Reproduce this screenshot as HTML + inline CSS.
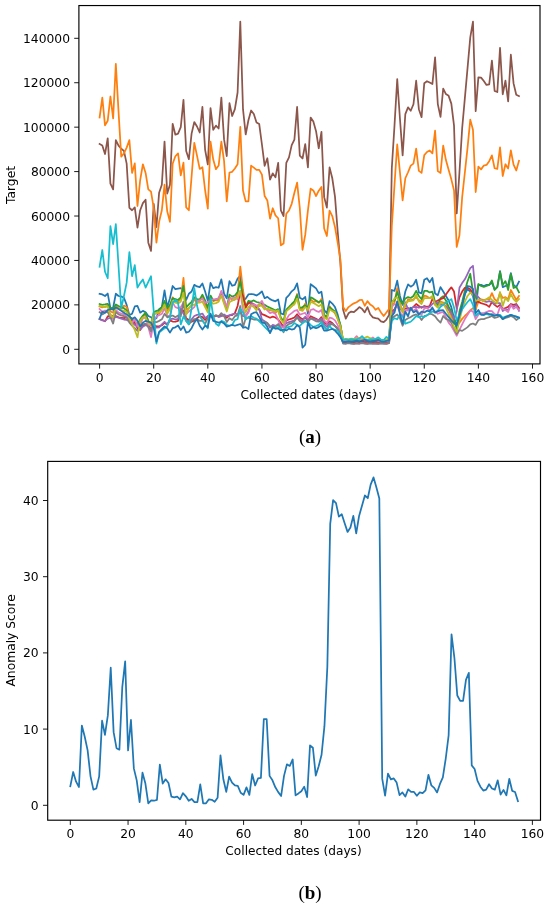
<!DOCTYPE html>
<html><head><meta charset="utf-8"><title>Figure</title>
<style>html,body{margin:0;padding:0;background:#fff;width:550px;height:906px;overflow:hidden}svg{display:block}</style>
</head><body>
<svg width="550" height="906" viewBox="0 0 550 906"><rect width="550" height="906" fill="#ffffff"/><clipPath id="ct"><rect x="78.9" y="5.55" width="461.1" height="358.34999999999997"/></clipPath><g clip-path="url(#ct)"><polyline points="99.60,293.76 102.31,294.43 105.01,295.99 107.72,293.54 110.42,308.20 113.13,307.76 115.83,293.76 118.54,295.99 121.24,296.43 123.95,297.76 126.66,304.87 129.36,315.09 132.07,313.76 134.77,306.43 137.48,305.98 140.18,312.65 142.89,310.87 145.60,312.20 148.30,315.98 151.01,317.31 153.71,319.31 156.42,318.20 159.12,309.09 161.83,307.09 164.53,290.43 167.24,307.32 169.95,298.21 172.65,285.99 175.36,289.10 178.06,288.66 180.77,288.21 183.47,289.32 186.18,299.98 188.88,293.76 191.59,291.54 194.30,284.88 197.00,286.43 199.71,287.10 202.41,283.55 205.12,291.54 207.82,300.87 210.53,282.88 213.24,288.21 215.94,287.10 218.65,287.77 221.35,279.33 224.06,293.76 226.76,298.43 229.47,281.10 232.17,285.77 234.88,284.88 237.59,278.66 240.29,275.99 243.00,300.43 245.70,298.65 248.41,294.43 251.11,293.99 253.82,294.43 256.52,295.54 259.23,293.76 261.94,291.32 264.64,298.21 267.35,296.87 270.05,299.10 272.76,300.43 275.46,301.32 278.17,299.54 280.88,313.54 283.58,314.42 286.29,297.76 288.99,295.10 291.70,291.32 294.40,289.10 297.11,283.32 299.81,297.76 302.52,299.32 305.23,296.87 307.93,313.76 310.64,284.21 313.34,286.21 316.05,288.43 318.75,293.10 321.46,291.77 324.16,309.98 326.87,313.31 329.58,301.10 332.28,303.54 334.99,307.09 337.69,314.65 340.40,325.09 343.10,340.86 345.81,341.53 348.52,340.64 351.22,341.75 353.93,341.08 356.63,341.97 359.34,340.86 362.04,341.53 364.75,342.19 367.45,341.30 370.16,340.64 372.87,341.75 375.57,341.30 378.28,341.97 380.98,340.86 383.69,340.64 386.39,341.53 389.10,339.30 391.80,289.99 394.51,290.88 397.22,280.66 399.92,295.99 402.63,304.87 405.33,291.54 408.04,284.44 410.74,286.66 413.45,284.88 416.16,279.77 418.86,292.43 421.57,293.32 424.27,279.77 426.98,278.22 429.68,282.21 432.39,277.99 435.09,293.54 437.80,295.32 440.51,287.10 443.21,291.54 445.92,295.99 448.62,300.43 451.33,307.09 454.03,318.20 456.74,324.86 459.44,315.98 462.15,304.87 464.86,293.76 467.56,289.32 470.27,291.54 472.97,295.99 475.68,309.31 478.38,285.10 481.09,284.88 483.80,285.99 486.50,284.88 489.21,284.88 491.91,282.66 494.62,289.32 497.32,287.10 500.03,271.11 502.73,287.10 505.44,285.99 508.15,284.88 510.85,273.11 513.56,284.88 516.26,287.10 518.97,281.55" fill="none" stroke="#1f77b4" stroke-width="1.75" stroke-linejoin="round" stroke-linecap="square"/><polyline points="99.60,306.43 102.31,307.48 105.01,306.66 107.72,305.76 110.42,311.54 113.13,312.65 115.83,305.98 118.54,308.20 121.24,308.65 123.95,305.54 126.66,307.09 129.36,317.09 132.07,318.20 134.77,324.47 137.48,322.64 140.18,321.88 142.89,315.98 145.60,315.06 148.30,320.42 151.01,325.98 153.71,314.87 156.42,313.00 159.12,313.55 161.83,309.31 164.53,303.76 167.24,310.43 169.95,307.27 172.65,297.32 175.36,301.08 178.06,301.39 180.77,299.32 183.47,277.77 186.18,309.31 188.88,308.31 191.59,304.90 194.30,299.32 197.00,302.99 199.71,300.66 202.41,296.41 205.12,304.50 207.82,309.31 210.53,297.10 213.24,301.16 215.94,300.11 218.65,300.33 221.35,293.76 224.06,302.46 226.76,309.31 229.47,297.10 232.17,300.31 234.88,299.71 237.59,293.76 240.29,266.66 243.00,289.99 245.70,308.20 248.41,302.65 251.11,303.88 253.82,304.44 256.52,305.53 259.23,306.01 261.94,304.87 264.64,308.99 267.35,309.00 270.05,310.41 272.76,310.32 275.46,312.80 278.17,310.43 280.88,318.20 283.58,321.53 286.29,310.43 288.99,308.82 291.70,306.43 294.40,302.65 297.11,293.99 299.81,309.31 302.52,308.96 305.23,303.54 307.93,310.80 310.64,299.32 313.34,301.88 316.05,301.10 318.75,302.89 321.46,298.87 324.16,315.98 326.87,318.20 329.58,306.20 332.28,310.55 334.99,313.24 337.69,318.64 340.40,325.98 343.10,341.53 345.81,342.08 348.52,341.04 351.22,341.66 353.93,342.52 356.63,341.08 359.34,341.68 362.04,341.11 364.75,341.38 367.45,341.35 370.16,341.75 372.87,341.06 375.57,340.72 378.28,342.36 380.98,341.73 383.69,340.88 386.39,341.94 389.10,340.41 391.80,304.87 394.51,302.65 397.22,288.21 399.92,302.65 402.63,312.42 405.33,305.98 408.04,299.32 410.74,300.43 413.45,299.32 416.16,297.10 418.86,300.43 421.57,301.54 424.27,295.54 426.98,296.43 429.68,298.21 432.39,297.10 435.09,304.87 437.80,307.09 440.51,301.54 443.21,302.65 445.92,302.65 448.62,309.31 451.33,315.98 454.03,322.64 456.74,326.20 459.44,322.64 462.15,318.87 464.86,315.98 467.56,313.31 470.27,310.43 472.97,308.20 475.68,309.31 478.38,301.98 481.09,299.32 483.80,299.98 486.50,299.32 489.21,299.32 491.91,293.10 494.62,299.32 497.32,301.32 500.03,293.10 502.73,297.99 505.44,297.10 508.15,299.10 510.85,289.99 513.56,294.88 516.26,299.98 518.97,295.99" fill="none" stroke="#ff7f0e" stroke-width="1.75" stroke-linejoin="round" stroke-linecap="square"/><polyline points="99.60,303.98 102.31,304.87 105.01,304.43 107.72,303.76 110.42,308.20 113.13,308.65 115.83,304.43 118.54,305.98 121.24,307.32 123.95,308.20 126.66,310.43 129.36,316.42 132.07,319.09 134.77,323.53 137.48,324.86 140.18,319.31 142.89,315.53 145.60,312.65 148.30,321.53 151.01,323.75 153.71,312.20 156.42,310.87 159.12,309.98 161.83,307.32 164.53,300.87 167.24,308.20 169.95,304.87 172.65,298.21 175.36,299.10 178.06,299.98 180.77,297.32 183.47,285.99 186.18,307.32 188.88,304.43 191.59,301.76 194.30,297.32 197.00,299.10 199.71,299.32 202.41,294.65 205.12,300.43 207.82,307.76 210.53,295.54 213.24,300.43 215.94,299.32 218.65,298.43 221.35,291.99 224.06,300.43 226.76,307.76 229.47,294.65 232.17,296.65 234.88,295.54 237.59,291.99 240.29,281.10 243.00,297.54 245.70,306.87 248.41,300.87 251.11,301.54 253.82,300.43 256.52,301.98 259.23,302.65 261.94,303.54 264.64,304.87 267.35,306.43 270.05,307.76 272.76,309.09 275.46,310.43 278.17,309.09 280.88,317.76 283.58,321.31 286.29,309.54 288.99,306.87 291.70,303.98 294.40,301.32 297.11,295.10 299.81,308.20 302.52,307.09 305.23,305.32 307.93,308.20 310.64,297.32 313.34,298.65 316.05,300.43 318.75,302.21 321.46,300.65 324.16,314.65 326.87,317.09 329.58,307.09 332.28,309.31 334.99,311.54 337.69,317.53 340.40,325.09 343.10,340.64 345.81,341.30 348.52,340.19 351.22,340.86 353.93,341.53 356.63,340.64 359.34,341.30 362.04,340.41 364.75,341.08 367.45,340.64 370.16,341.53 372.87,340.86 375.57,340.41 378.28,341.30 380.98,340.86 383.69,340.64 386.39,341.30 389.10,339.75 391.80,301.32 394.51,300.43 397.22,291.99 399.92,300.43 402.63,303.98 405.33,298.43 408.04,297.10 410.74,297.99 413.45,295.99 416.16,290.88 418.86,295.99 421.57,299.32 424.27,290.88 426.98,290.88 429.68,292.43 432.39,291.54 435.09,301.98 437.80,304.87 440.51,298.21 443.21,296.21 445.92,300.43 448.62,306.65 451.33,311.54 454.03,319.31 456.74,329.09 459.44,311.54 462.15,301.98 464.86,290.66 467.56,281.33 470.27,273.77 472.97,291.54 475.68,298.21 478.38,283.99 481.09,285.99 483.80,286.88 486.50,285.99 489.21,284.88 491.91,280.44 494.62,289.99 497.32,286.88 500.03,271.55 502.73,285.10 505.44,281.10 508.15,289.99 510.85,273.99 513.56,287.99 516.26,286.88 518.97,292.43" fill="none" stroke="#2ca02c" stroke-width="1.75" stroke-linejoin="round" stroke-linecap="square"/><polyline points="99.60,319.09 102.31,319.98 105.01,321.31 107.72,316.42 110.42,315.53 113.13,315.98 115.83,315.98 118.54,317.31 121.24,317.76 123.95,318.20 126.66,317.31 129.36,319.09 132.07,320.87 134.77,322.64 137.48,328.20 140.18,329.97 142.89,325.53 145.60,324.42 148.30,325.31 151.01,329.31 153.71,325.75 156.42,326.20 159.12,326.42 161.83,325.31 164.53,322.64 167.24,324.86 169.95,320.42 172.65,321.53 175.36,321.75 178.06,320.87 180.77,311.98 183.47,310.43 186.18,318.20 188.88,319.98 191.59,321.75 194.30,320.42 197.00,318.20 199.71,316.20 202.41,317.09 205.12,319.98 207.82,316.20 210.53,315.53 213.24,316.65 215.94,316.20 218.65,315.98 221.35,315.31 224.06,315.76 226.76,317.76 229.47,315.31 232.17,315.09 234.88,313.09 237.59,305.98 240.29,291.54 243.00,295.99 245.70,307.09 248.41,303.09 251.11,302.65 253.82,304.21 256.52,307.76 259.23,309.54 261.94,314.20 264.64,315.09 267.35,316.42 270.05,317.76 272.76,316.65 275.46,317.53 278.17,319.53 280.88,323.09 283.58,326.86 286.29,320.42 288.99,319.53 291.70,318.64 294.40,317.53 297.11,314.20 299.81,317.53 302.52,319.31 305.23,317.53 307.93,320.20 310.64,316.20 313.34,317.53 316.05,318.87 318.75,320.20 321.46,317.09 324.16,322.64 326.87,323.98 329.58,321.31 332.28,323.09 334.99,325.98 337.69,328.64 340.40,334.19 343.10,341.97 345.81,342.41 348.52,341.53 351.22,342.19 353.93,342.64 356.63,341.75 359.34,342.41 362.04,341.30 364.75,342.19 367.45,341.75 370.16,342.64 372.87,341.97 375.57,342.41 378.28,341.75 380.98,342.64 383.69,342.19 386.39,342.41 389.10,341.30 391.80,311.54 394.51,309.31 397.22,303.76 399.92,309.31 402.63,309.76 405.33,308.87 408.04,308.20 410.74,308.87 413.45,306.87 416.16,303.98 418.86,305.98 421.57,307.76 424.27,305.98 426.98,306.87 429.68,305.98 432.39,299.10 435.09,301.98 437.80,300.43 440.51,299.10 443.21,298.21 445.92,294.43 448.62,290.66 451.33,287.32 454.03,291.54 456.74,308.43 459.44,297.32 462.15,291.54 464.86,287.77 467.56,287.77 470.27,289.32 472.97,293.76 475.68,301.98 478.38,301.98 481.09,303.09 483.80,303.98 486.50,304.87 489.21,306.87 491.91,301.98 494.62,304.87 497.32,306.87 500.03,304.87 502.73,308.87 505.44,307.98 508.15,306.87 510.85,303.98 513.56,304.87 516.26,303.98 518.97,307.98" fill="none" stroke="#d62728" stroke-width="1.75" stroke-linejoin="round" stroke-linecap="square"/><polyline points="99.60,319.09 102.31,320.42 105.01,320.87 107.72,318.64 110.42,317.76 113.13,318.64 115.83,316.87 118.54,317.76 121.24,318.64 123.95,319.53 126.66,319.98 129.36,321.31 132.07,322.20 134.77,324.86 137.48,326.64 140.18,329.31 142.89,326.64 145.60,325.09 148.30,326.20 151.01,329.31 153.71,326.86 156.42,327.53 159.12,327.31 161.83,324.42 164.53,321.75 167.24,324.42 169.95,319.31 172.65,318.64 175.36,319.53 178.06,318.87 180.77,308.20 183.47,313.76 186.18,319.98 188.88,322.42 191.59,319.31 194.30,315.98 197.00,314.87 199.71,314.42 202.41,313.54 205.12,317.98 207.82,316.20 210.53,316.20 213.24,317.09 215.94,315.31 218.65,317.09 221.35,316.20 224.06,314.42 226.76,316.20 229.47,315.31 232.17,314.42 234.88,313.54 237.59,314.42 240.29,312.42 243.00,316.20 245.70,316.20 248.41,311.54 251.11,303.09 253.82,304.87 256.52,305.98 259.23,309.31 261.94,319.53 264.64,321.31 267.35,323.09 270.05,327.75 272.76,324.86 275.46,325.75 278.17,324.86 280.88,324.86 283.58,326.86 286.29,323.09 288.99,322.20 291.70,321.31 294.40,320.42 297.11,316.20 299.81,319.31 302.52,321.31 305.23,316.65 307.93,319.31 310.64,318.20 313.34,318.64 316.05,319.53 318.75,320.20 321.46,318.64 324.16,323.98 326.87,326.86 329.58,323.09 332.28,323.98 334.99,325.98 337.69,329.31 340.40,334.86 343.10,343.08 345.81,343.52 348.52,342.86 351.22,343.30 353.93,343.75 356.63,343.08 359.34,343.52 362.04,342.86 364.75,343.30 367.45,343.75 370.16,343.08 372.87,343.52 375.57,343.30 378.28,343.75 380.98,343.08 383.69,343.52 386.39,343.75 389.10,342.86 391.80,313.76 394.51,310.43 397.22,302.21 399.92,308.65 402.63,310.65 405.33,302.21 408.04,309.31 410.74,308.20 413.45,307.09 416.16,306.87 418.86,307.76 421.57,306.87 424.27,306.87 426.98,307.76 429.68,306.87 432.39,303.98 435.09,301.98 437.80,302.87 440.51,304.87 443.21,303.98 445.92,306.65 448.62,309.54 451.33,313.31 454.03,318.87 456.74,311.31 459.44,287.77 462.15,283.10 464.86,279.33 467.56,273.77 470.27,268.22 472.97,265.78 475.68,293.99 478.38,297.10 481.09,299.98 483.80,301.10 486.50,301.98 489.21,301.10 491.91,301.98 494.62,303.98 497.32,303.09 500.03,303.09 502.73,311.09 505.44,309.09 508.15,309.98 510.85,304.87 513.56,306.87 516.26,304.87 518.97,310.87" fill="none" stroke="#9467bd" stroke-width="1.75" stroke-linejoin="round" stroke-linecap="square"/><polyline points="99.60,144.04 102.31,145.60 105.01,154.04 107.72,138.27 110.42,183.58 113.13,189.36 115.83,140.04 118.54,145.60 121.24,148.71 123.95,150.93 126.66,163.59 129.36,207.80 132.07,210.24 134.77,207.35 137.48,227.57 140.18,210.24 142.89,203.13 145.60,199.80 148.30,242.67 151.01,250.89 153.71,203.80 156.42,227.12 159.12,192.69 161.83,184.69 164.53,141.60 167.24,193.58 169.95,184.69 172.65,123.83 175.36,134.71 178.06,133.60 180.77,127.16 183.47,99.84 186.18,150.93 188.88,159.15 191.59,133.60 194.30,122.05 197.00,126.49 199.71,132.49 202.41,106.95 205.12,149.82 207.82,164.48 210.53,108.06 213.24,129.83 215.94,125.61 218.65,128.49 221.35,97.62 224.06,139.38 226.76,156.04 229.47,103.17 232.17,116.05 234.88,109.17 237.59,92.51 240.29,21.64 243.00,109.17 245.70,134.49 248.41,120.27 251.11,110.50 253.82,114.05 256.52,122.50 259.23,124.05 261.94,144.49 264.64,165.81 267.35,158.26 270.05,179.59 272.76,173.37 275.46,177.36 278.17,162.92 280.88,210.46 283.58,216.02 286.29,162.92 288.99,157.37 291.70,145.15 294.40,139.60 297.11,106.95 299.81,155.59 302.52,158.48 305.23,144.04 307.93,167.37 310.64,117.61 313.34,121.61 316.05,131.16 318.75,148.26 321.46,131.82 324.16,197.13 326.87,207.57 329.58,167.37 332.28,178.25 334.99,196.69 337.69,231.57 340.40,263.11 343.10,309.76 345.81,318.64 348.52,313.31 351.22,311.54 353.93,312.20 356.63,309.76 359.34,307.09 362.04,308.87 364.75,312.42 367.45,307.09 370.16,314.20 372.87,317.31 375.57,318.20 378.28,318.64 380.98,321.31 383.69,322.20 386.39,319.53 389.10,314.87 391.80,168.26 394.51,125.38 397.22,79.18 399.92,118.27 402.63,155.37 405.33,114.05 408.04,107.39 410.74,110.72 413.45,104.28 416.16,80.73 418.86,109.17 421.57,117.16 424.27,83.18 426.98,81.18 429.68,82.51 432.39,84.06 435.09,57.41 437.80,104.06 440.51,116.94 443.21,88.51 445.92,94.06 448.62,95.84 451.33,103.61 454.03,125.61 456.74,213.35 459.44,172.48 462.15,128.49 464.86,98.06 467.56,67.85 470.27,37.42 472.97,21.64 475.68,111.17 478.38,77.40 481.09,77.62 483.80,80.95 486.50,84.95 489.21,84.29 491.91,60.52 494.62,90.95 497.32,92.06 500.03,47.86 502.73,94.28 505.44,80.73 508.15,101.39 510.85,54.74 513.56,83.40 516.26,94.73 518.97,96.06" fill="none" stroke="#8c564b" stroke-width="1.75" stroke-linejoin="round" stroke-linecap="square"/><polyline points="99.60,309.09 102.31,311.76 105.01,310.43 107.72,312.20 110.42,314.20 113.13,319.09 115.83,309.98 118.54,312.65 121.24,313.54 123.95,314.42 126.66,316.42 129.36,320.87 132.07,322.64 134.77,319.09 137.48,325.98 140.18,324.86 142.89,318.20 145.60,317.09 148.30,327.09 151.01,337.08 153.71,321.53 156.42,316.42 159.12,315.31 161.83,313.76 164.53,308.20 167.24,315.53 169.95,316.42 172.65,302.65 175.36,307.09 178.06,308.20 180.77,307.09 183.47,302.65 186.18,313.76 188.88,311.54 191.59,309.31 194.30,307.09 197.00,300.87 199.71,300.43 202.41,298.65 205.12,302.65 207.82,302.21 210.53,300.43 213.24,299.32 215.94,299.32 218.65,298.43 221.35,290.88 224.06,299.32 226.76,306.87 229.47,298.43 232.17,298.43 234.88,297.54 237.59,299.32 240.29,290.88 243.00,309.76 245.70,316.20 248.41,312.65 251.11,305.09 253.82,304.21 256.52,305.98 259.23,304.21 261.94,300.87 264.64,306.87 267.35,310.43 270.05,313.09 272.76,312.20 275.46,313.98 278.17,319.53 280.88,326.86 283.58,327.75 286.29,319.53 288.99,315.09 291.70,313.09 294.40,310.87 297.11,309.98 299.81,314.65 302.52,313.76 305.23,312.87 307.93,317.53 310.64,309.98 313.34,309.09 316.05,310.87 318.75,311.98 321.46,309.98 324.16,320.42 326.87,323.09 329.58,317.53 332.28,318.42 334.99,320.42 337.69,325.09 340.40,332.42 343.10,340.41 345.81,340.19 348.52,339.75 351.22,339.53 353.93,339.08 356.63,336.19 359.34,339.30 362.04,339.97 364.75,340.41 367.45,340.19 370.16,339.75 372.87,337.30 375.57,339.97 378.28,340.86 380.98,341.08 383.69,341.53 386.39,341.30 389.10,340.41 391.80,306.87 394.51,303.98 397.22,305.98 399.92,312.42 402.63,316.20 405.33,309.76 408.04,310.65 410.74,309.76 413.45,310.65 416.16,308.65 418.86,313.54 421.57,314.65 424.27,308.65 426.98,307.76 429.68,310.43 432.39,308.87 435.09,311.54 437.80,313.76 440.51,312.65 443.21,311.98 445.92,317.09 448.62,322.64 451.33,325.98 454.03,330.86 456.74,335.75 459.44,329.97 462.15,324.42 464.86,319.09 467.56,314.87 470.27,310.43 472.97,311.54 475.68,319.09 478.38,314.87 481.09,313.09 483.80,313.09 486.50,311.98 489.21,310.87 491.91,311.09 494.62,313.98 497.32,315.09 500.03,306.87 502.73,308.87 505.44,309.98 508.15,311.98 510.85,304.87 513.56,308.87 516.26,306.87 518.97,309.98" fill="none" stroke="#e377c2" stroke-width="1.75" stroke-linejoin="round" stroke-linecap="square"/><polyline points="99.60,312.20 102.31,314.42 105.01,312.65 107.72,311.76 110.42,317.31 113.13,323.53 115.83,311.76 118.54,314.42 121.24,315.31 123.95,316.20 126.66,317.31 129.36,322.64 132.07,325.53 134.77,328.20 137.48,330.86 140.18,326.42 142.89,324.42 145.60,323.53 148.30,327.09 151.01,331.53 153.71,321.75 156.42,322.20 159.12,320.87 161.83,319.31 164.53,313.76 167.24,317.31 169.95,316.42 172.65,315.53 175.36,317.31 178.06,315.53 180.77,316.42 183.47,301.76 186.18,320.87 188.88,324.42 191.59,320.87 194.30,319.09 197.00,319.31 199.71,320.87 202.41,320.87 205.12,323.75 207.82,318.20 210.53,316.20 213.24,316.20 215.94,315.31 218.65,316.20 221.35,313.09 224.06,316.20 226.76,321.98 229.47,318.20 232.17,319.98 234.88,316.20 237.59,315.31 240.29,305.98 243.00,327.53 245.70,318.20 248.41,317.76 251.11,318.64 253.82,319.53 256.52,319.53 259.23,320.42 261.94,323.09 264.64,322.20 267.35,323.09 270.05,325.98 272.76,326.86 275.46,326.86 278.17,323.98 280.88,328.64 283.58,332.20 286.29,325.98 288.99,323.98 291.70,323.09 294.40,321.31 297.11,317.53 299.81,321.31 302.52,323.09 305.23,320.42 307.93,322.20 310.64,318.42 313.34,319.76 316.05,321.31 318.75,321.75 321.46,320.42 324.16,326.86 326.87,329.75 329.58,325.09 332.28,323.98 334.99,325.98 337.69,328.86 340.40,334.64 343.10,343.52 345.81,343.75 348.52,343.08 351.22,343.52 353.93,343.97 356.63,343.30 359.34,343.75 362.04,343.08 364.75,343.52 367.45,343.97 370.16,343.30 372.87,343.75 375.57,343.52 378.28,343.97 380.98,343.30 383.69,343.75 386.39,343.97 389.10,343.08 391.80,318.20 394.51,316.20 397.22,314.42 399.92,318.20 402.63,325.75 405.33,319.98 408.04,318.20 410.74,317.09 413.45,315.31 416.16,314.42 418.86,316.20 421.57,319.98 424.27,316.20 426.98,315.31 429.68,313.76 432.39,314.42 435.09,316.20 437.80,319.98 440.51,322.64 443.21,315.98 445.92,318.87 448.62,319.98 451.33,322.64 454.03,328.20 456.74,333.75 459.44,329.97 462.15,330.86 464.86,329.09 467.56,327.09 470.27,324.42 472.97,323.53 475.68,324.86 478.38,319.98 481.09,319.09 483.80,319.09 486.50,317.98 489.21,317.09 491.91,315.98 494.62,317.98 497.32,317.09 500.03,315.98 502.73,319.09 505.44,317.98 508.15,317.09 510.85,315.98 513.56,317.09 516.26,319.98 518.97,317.98" fill="none" stroke="#7f7f7f" stroke-width="1.75" stroke-linejoin="round" stroke-linecap="square"/><polyline points="99.60,305.98 102.31,306.43 105.01,307.09 107.72,306.43 110.42,315.53 113.13,317.31 115.83,307.32 118.54,309.09 121.24,309.98 123.95,310.87 126.66,311.76 129.36,318.20 132.07,324.42 134.77,329.97 137.48,337.30 140.18,320.87 142.89,317.31 145.60,318.20 148.30,322.64 151.01,324.86 153.71,313.76 156.42,313.09 159.12,312.20 161.83,310.43 164.53,304.43 167.24,313.76 169.95,309.31 172.65,300.87 175.36,302.65 178.06,303.54 180.77,301.54 183.47,292.65 186.18,314.65 188.88,308.20 191.59,304.87 194.30,304.87 197.00,302.65 199.71,302.65 202.41,301.54 205.12,307.09 207.82,312.42 210.53,301.54 213.24,303.76 215.94,303.09 218.65,301.76 221.35,295.54 224.06,303.76 226.76,311.54 229.47,302.21 232.17,300.43 234.88,299.32 237.59,297.54 240.29,290.88 243.00,303.98 245.70,312.42 248.41,306.87 251.11,305.54 253.82,306.87 256.52,310.43 259.23,304.87 261.94,305.98 264.64,309.54 267.35,308.65 270.05,309.54 272.76,310.43 275.46,311.31 278.17,310.43 280.88,319.53 283.58,323.09 286.29,311.31 288.99,308.65 291.70,305.98 294.40,304.43 297.11,298.65 299.81,309.98 302.52,310.87 305.23,307.09 307.93,309.09 310.64,301.98 313.34,302.87 316.05,304.43 318.75,306.20 321.46,304.43 324.16,317.53 326.87,319.31 329.58,309.09 332.28,311.09 334.99,311.98 337.69,319.31 340.40,325.98 343.10,339.30 345.81,338.86 348.52,339.08 351.22,338.64 353.93,338.86 356.63,338.42 359.34,337.97 362.04,338.42 364.75,337.75 367.45,336.64 370.16,338.19 372.87,339.08 375.57,339.30 378.28,338.86 380.98,339.53 383.69,339.75 386.39,339.30 389.10,338.19 391.80,303.09 394.51,298.43 397.22,297.54 399.92,304.87 402.63,312.42 405.33,303.98 408.04,301.32 410.74,300.87 413.45,300.43 416.16,294.65 418.86,301.54 421.57,303.98 424.27,298.21 426.98,298.21 429.68,298.21 432.39,295.99 435.09,304.65 437.80,307.54 440.51,302.65 443.21,303.76 445.92,308.20 448.62,313.76 451.33,319.31 454.03,327.09 456.74,331.97 459.44,320.64 462.15,309.31 464.86,301.54 467.56,295.99 470.27,292.43 472.97,294.88 475.68,300.87 478.38,299.98 481.09,299.98 483.80,301.10 486.50,299.32 489.21,297.32 491.91,299.98 494.62,301.98 497.32,303.09 500.03,291.99 502.73,305.98 505.44,297.99 508.15,301.10 510.85,293.99 513.56,299.10 516.26,301.98 518.97,299.10" fill="none" stroke="#bcbd22" stroke-width="1.75" stroke-linejoin="round" stroke-linecap="square"/><polyline points="99.60,266.66 102.31,250.00 105.01,271.77 107.72,278.22 110.42,226.01 113.13,244.23 115.83,224.24 118.54,266.00 121.24,308.20 123.95,295.99 126.66,282.66 129.36,252.22 132.07,276.22 134.77,265.11 137.48,287.55 140.18,283.10 142.89,279.55 145.60,287.55 148.30,281.77 151.01,276.22 153.71,311.54 156.42,343.52 159.12,332.64 161.83,330.42 164.53,328.20 167.24,326.42 169.95,318.20 172.65,302.65 175.36,299.98 178.06,302.65 180.77,324.42 183.47,316.42 186.18,320.87 188.88,324.42 191.59,308.20 194.30,288.21 197.00,305.54 199.71,316.20 202.41,319.98 205.12,324.86 207.82,328.42 210.53,298.43 213.24,316.20 215.94,323.75 218.65,325.75 221.35,320.87 224.06,321.75 226.76,324.86 229.47,325.75 232.17,324.86 234.88,319.98 237.59,319.09 240.29,308.87 243.00,312.42 245.70,319.53 248.41,316.87 251.11,315.98 253.82,317.76 256.52,318.64 259.23,321.31 261.94,323.98 264.64,326.86 267.35,329.53 270.05,332.20 272.76,327.75 275.46,328.64 278.17,326.86 280.88,328.64 283.58,331.31 286.29,327.75 288.99,326.86 291.70,325.98 294.40,323.09 297.11,324.86 299.81,325.98 302.52,323.09 305.23,321.31 307.93,322.20 310.64,324.86 313.34,326.86 316.05,325.98 318.75,324.86 321.46,322.20 324.16,326.86 326.87,329.75 329.58,325.98 332.28,328.86 334.99,329.75 337.69,330.64 340.40,334.86 343.10,339.97 345.81,339.30 348.52,339.75 351.22,339.08 353.93,339.53 356.63,339.30 359.34,338.64 362.04,336.19 364.75,339.08 367.45,339.53 370.16,339.30 372.87,339.30 375.57,339.08 378.28,337.30 380.98,339.75 383.69,339.97 386.39,336.86 389.10,338.64 391.80,320.87 394.51,318.20 397.22,319.31 399.92,314.42 402.63,316.20 405.33,323.75 408.04,322.64 410.74,321.75 413.45,319.09 416.16,316.20 418.86,317.09 421.57,316.20 424.27,317.09 426.98,315.31 429.68,313.09 432.39,311.54 435.09,312.42 437.80,310.65 440.51,306.65 443.21,304.87 445.92,302.87 448.62,301.10 451.33,299.10 454.03,307.54 456.74,320.64 459.44,314.87 462.15,309.31 464.86,305.54 467.56,301.98 470.27,299.10 472.97,304.87 475.68,315.98 478.38,313.09 481.09,313.98 483.80,314.87 486.50,313.98 489.21,314.87 491.91,313.98 494.62,315.76 497.32,314.87 500.03,314.87 502.73,317.76 505.44,316.65 508.15,315.76 510.85,314.87 513.56,315.76 516.26,316.65 518.97,317.98" fill="none" stroke="#17becf" stroke-width="1.75" stroke-linejoin="round" stroke-linecap="square"/><polyline points="99.60,318.64 102.31,311.76 105.01,312.65 107.72,309.98 110.42,309.09 113.13,309.76 115.83,307.32 118.54,309.09 121.24,310.87 123.95,312.65 126.66,314.42 129.36,316.42 132.07,319.09 134.77,317.31 137.48,320.87 140.18,326.42 142.89,322.64 145.60,320.87 148.30,321.75 151.01,322.64 153.71,328.20 156.42,341.53 159.12,331.75 161.83,329.09 164.53,326.42 167.24,328.20 169.95,332.64 172.65,328.20 175.36,327.31 178.06,325.53 180.77,329.97 183.47,326.42 186.18,332.64 188.88,331.75 191.59,328.20 194.30,322.64 197.00,319.09 199.71,325.75 202.41,329.53 205.12,325.75 207.82,327.09 210.53,313.54 213.24,320.87 215.94,321.75 218.65,322.64 221.35,321.75 224.06,323.53 226.76,326.64 229.47,325.75 232.17,324.86 234.88,325.75 237.59,324.86 240.29,323.98 243.00,327.53 245.70,327.09 248.41,329.09 251.11,314.20 253.82,312.65 256.52,312.20 259.23,316.87 261.94,322.20 264.64,323.09 267.35,326.86 270.05,333.08 272.76,326.86 275.46,328.64 278.17,328.64 280.88,330.42 283.58,329.53 286.29,330.42 288.99,328.64 291.70,329.53 294.40,328.86 297.11,325.09 299.81,327.31 302.52,347.52 305.23,344.75 307.93,322.20 310.64,328.86 313.34,327.09 316.05,328.20 318.75,327.09 321.46,325.09 324.16,330.64 326.87,330.64 329.58,329.75 332.28,328.86 334.99,330.64 337.69,333.53 340.40,337.30 343.10,342.19 345.81,341.75 348.52,341.30 351.22,341.97 353.93,341.30 356.63,340.64 359.34,341.53 362.04,340.64 364.75,339.75 367.45,340.86 370.16,341.53 372.87,341.08 375.57,340.64 378.28,339.97 380.98,341.30 383.69,341.97 386.39,340.86 389.10,340.41 391.80,316.20 394.51,312.42 397.22,301.32 399.92,313.76 402.63,323.75 405.33,311.54 408.04,316.20 410.74,307.76 413.45,312.42 416.16,310.65 418.86,314.42 421.57,311.54 424.27,312.42 426.98,310.65 429.68,311.54 432.39,307.54 435.09,312.65 437.80,311.31 440.51,310.43 443.21,310.20 445.92,313.76 448.62,317.09 451.33,320.42 454.03,323.09 456.74,325.31 459.44,315.76 462.15,305.76 464.86,294.43 467.56,285.99 470.27,286.66 472.97,288.88 475.68,313.09 478.38,309.98 481.09,314.87 483.80,314.87 486.50,313.09 489.21,313.98 491.91,314.87 494.62,315.76 497.32,314.87 500.03,315.76 502.73,319.09 505.44,317.09 508.15,315.98 510.85,314.87 513.56,315.76 516.26,316.65 518.97,317.53" fill="none" stroke="#1f77b4" stroke-width="1.75" stroke-linejoin="round" stroke-linecap="square"/><polyline points="99.60,117.39 102.31,97.62 105.01,125.38 107.72,120.72 110.42,96.50 113.13,118.50 115.83,63.85 118.54,111.61 121.24,156.70 123.95,153.37 126.66,147.60 129.36,140.04 132.07,172.92 134.77,163.37 137.48,206.02 140.18,180.03 142.89,164.26 145.60,172.92 148.30,189.36 151.01,191.58 153.71,207.80 156.42,242.67 159.12,221.79 161.83,210.24 164.53,184.69 167.24,211.35 169.95,221.79 172.65,163.81 175.36,156.26 178.06,153.37 180.77,175.36 183.47,162.70 186.18,207.35 188.88,210.24 191.59,176.48 194.30,142.93 197.00,155.59 199.71,168.92 202.41,167.15 205.12,190.25 207.82,208.69 210.53,141.60 213.24,159.59 215.94,169.14 218.65,165.59 221.35,141.60 224.06,160.93 226.76,201.35 229.47,172.48 232.17,171.81 234.88,168.48 237.59,164.26 240.29,126.94 243.00,190.47 245.70,201.35 248.41,201.35 251.11,165.59 253.82,167.59 256.52,169.81 259.23,169.81 261.94,174.70 264.64,196.02 267.35,200.47 270.05,218.68 272.76,208.24 275.46,215.35 278.17,218.24 280.88,245.34 283.58,243.56 286.29,213.79 288.99,210.46 291.70,203.80 294.40,192.69 297.11,182.70 299.81,208.24 302.52,249.78 305.23,234.90 307.93,210.46 310.64,188.69 313.34,190.47 316.05,196.02 318.75,190.69 321.46,186.92 324.16,228.46 326.87,236.01 329.58,210.68 332.28,216.02 334.99,227.12 337.69,242.67 340.40,259.56 343.10,307.09 345.81,311.09 348.52,307.09 351.22,305.09 353.93,303.32 356.63,302.21 359.34,300.21 362.04,299.76 364.75,305.76 367.45,301.10 370.16,304.43 372.87,306.20 375.57,309.76 378.28,307.98 380.98,312.42 383.69,315.98 386.39,312.42 389.10,308.87 391.80,226.23 394.51,184.69 397.22,144.49 399.92,172.03 402.63,200.47 405.33,178.25 408.04,172.25 410.74,165.59 413.45,163.59 416.16,148.71 418.86,170.92 421.57,172.92 424.27,155.15 426.98,152.04 429.68,150.48 432.39,153.37 435.09,130.71 437.80,171.14 440.51,172.92 443.21,145.60 445.92,160.04 448.62,169.81 451.33,179.36 454.03,190.47 456.74,246.89 459.44,235.34 462.15,197.36 464.86,172.48 467.56,147.60 470.27,119.61 472.97,129.83 475.68,192.02 478.38,166.70 481.09,169.37 483.80,165.59 486.50,164.92 489.21,161.15 491.91,155.37 494.62,168.26 497.32,168.92 500.03,147.37 502.73,176.03 505.44,164.26 508.15,168.48 510.85,150.48 513.56,164.70 516.26,170.48 518.97,160.93" fill="none" stroke="#ff7f0e" stroke-width="1.75" stroke-linejoin="round" stroke-linecap="square"/></g><clipPath id="cb"><rect x="47.7" y="461.4" width="492.8" height="358.80000000000007"/></clipPath><g clip-path="url(#cb)"><polyline points="70.30,786.33 73.19,772.00 76.08,781.68 78.96,787.01 81.85,725.59 84.74,736.72 87.63,750.44 90.52,776.34 93.40,789.60 96.29,788.54 99.18,776.34 102.07,720.72 104.96,734.81 107.84,715.38 110.73,667.68 113.62,732.15 116.51,748.15 119.40,749.67 122.28,687.19 125.17,661.28 128.06,750.44 130.95,719.96 133.84,768.42 136.72,780.38 139.61,802.18 142.50,772.69 145.39,783.58 148.28,803.32 151.16,800.42 154.05,800.73 156.94,799.97 159.83,764.69 162.72,783.58 165.60,779.32 168.49,782.97 171.38,796.69 174.27,797.38 177.16,796.69 180.04,799.28 182.93,793.18 185.82,796.31 188.71,800.73 191.60,798.90 194.48,802.18 197.37,802.18 200.26,784.27 203.15,803.32 206.04,803.32 208.92,799.28 211.81,799.81 214.70,801.72 217.59,797.83 220.48,755.31 223.36,779.32 226.25,791.89 229.14,776.72 232.03,782.52 234.92,785.41 237.80,785.79 240.69,792.73 243.58,794.86 246.47,787.32 249.36,794.86 252.24,774.21 255.13,785.49 258.02,778.48 260.91,777.87 263.80,719.19 266.68,719.19 269.57,775.89 272.46,780.31 275.35,787.32 278.24,792.12 281.12,796.00 284.01,775.89 286.90,764.38 289.79,765.90 292.68,759.43 295.56,795.39 298.45,793.41 301.34,791.20 304.23,786.63 307.12,797.07 310.00,745.48 312.89,747.77 315.78,775.58 318.67,766.29 321.56,754.78 324.44,726.20 327.33,666.92 330.22,523.89 333.11,500.20 336.00,503.09 338.88,516.58 341.77,514.22 344.66,523.36 347.55,531.89 350.44,527.55 353.32,515.89 356.21,533.42 359.10,515.89 361.99,505.68 364.88,495.47 367.76,498.21 370.65,484.57 373.54,477.41 376.43,487.55 379.32,498.52 382.20,778.63 385.09,795.70 387.98,773.60 390.87,779.39 393.76,778.40 396.64,782.59 399.53,795.17 402.42,792.42 405.31,796.61 408.20,789.30 411.08,791.96 413.97,791.96 416.86,795.77 419.75,792.42 422.64,793.11 425.52,790.29 428.41,774.82 431.30,785.34 434.19,787.85 437.08,792.42 439.96,783.96 442.85,777.33 445.74,758.51 448.63,735.42 451.52,634.31 454.40,657.78 457.29,695.50 460.18,700.91 463.07,700.91 465.96,679.80 468.84,672.86 471.73,765.37 474.62,769.03 477.51,780.84 480.40,786.71 483.28,790.59 486.17,789.60 489.06,784.27 491.95,788.54 494.84,789.60 497.72,780.38 500.61,794.63 503.50,789.91 506.39,795.32 509.28,778.78 512.16,790.82 515.05,791.96 517.94,801.19" fill="none" stroke="#1f77b4" stroke-width="1.75" stroke-linejoin="round" stroke-linecap="square"/></g><rect x="78.9" y="5.55" width="461.1" height="358.34999999999997" fill="none" stroke="#000000" stroke-width="1.15"/><rect x="47.7" y="461.4" width="492.8" height="358.80000000000007" fill="none" stroke="#000000" stroke-width="1.15"/><g font-family='"DejaVu Sans", "Liberation Sans", sans-serif' font-size="12.3" fill="#000"><line x1="99.60" y1="363.9" x2="99.60" y2="368.59999999999997" stroke="#000" stroke-width="0.9"/><text x="99.60" y="382.00" text-anchor="middle" >0</text><line x1="153.71" y1="363.9" x2="153.71" y2="368.59999999999997" stroke="#000" stroke-width="0.9"/><text x="153.71" y="382.00" text-anchor="middle" >20</text><line x1="207.82" y1="363.9" x2="207.82" y2="368.59999999999997" stroke="#000" stroke-width="0.9"/><text x="207.82" y="382.00" text-anchor="middle" >40</text><line x1="261.94" y1="363.9" x2="261.94" y2="368.59999999999997" stroke="#000" stroke-width="0.9"/><text x="261.94" y="382.00" text-anchor="middle" >60</text><line x1="316.05" y1="363.9" x2="316.05" y2="368.59999999999997" stroke="#000" stroke-width="0.9"/><text x="316.05" y="382.00" text-anchor="middle" >80</text><line x1="370.16" y1="363.9" x2="370.16" y2="368.59999999999997" stroke="#000" stroke-width="0.9"/><text x="370.16" y="382.00" text-anchor="middle" >100</text><line x1="424.27" y1="363.9" x2="424.27" y2="368.59999999999997" stroke="#000" stroke-width="0.9"/><text x="424.27" y="382.00" text-anchor="middle" >120</text><line x1="478.38" y1="363.9" x2="478.38" y2="368.59999999999997" stroke="#000" stroke-width="0.9"/><text x="478.38" y="382.00" text-anchor="middle" >140</text><line x1="532.50" y1="363.9" x2="532.50" y2="368.59999999999997" stroke="#000" stroke-width="0.9"/><text x="532.50" y="382.00" text-anchor="middle" >160</text><line x1="74.2" y1="349.30" x2="78.9" y2="349.30" stroke="#000" stroke-width="0.9"/><text x="70.00" y="353.80" text-anchor="end" >0</text><line x1="74.2" y1="304.87" x2="78.9" y2="304.87" stroke="#000" stroke-width="0.9"/><text x="70.00" y="309.37" text-anchor="end" >20000</text><line x1="74.2" y1="260.44" x2="78.9" y2="260.44" stroke="#000" stroke-width="0.9"/><text x="70.00" y="264.94" text-anchor="end" >40000</text><line x1="74.2" y1="216.02" x2="78.9" y2="216.02" stroke="#000" stroke-width="0.9"/><text x="70.00" y="220.52" text-anchor="end" >60000</text><line x1="74.2" y1="171.59" x2="78.9" y2="171.59" stroke="#000" stroke-width="0.9"/><text x="70.00" y="176.09" text-anchor="end" >80000</text><line x1="74.2" y1="127.16" x2="78.9" y2="127.16" stroke="#000" stroke-width="0.9"/><text x="70.00" y="131.66" text-anchor="end" >100000</text><line x1="74.2" y1="82.73" x2="78.9" y2="82.73" stroke="#000" stroke-width="0.9"/><text x="70.00" y="87.23" text-anchor="end" >120000</text><line x1="74.2" y1="38.30" x2="78.9" y2="38.30" stroke="#000" stroke-width="0.9"/><text x="70.00" y="42.80" text-anchor="end" >140000</text><text x="308.75" y="398.70" text-anchor="middle" font-size="12.15">Collected dates (days)</text><text transform="translate(14.9,185) rotate(-90)" text-anchor="middle">Target</text><line x1="70.30" y1="820.2" x2="70.30" y2="824.9000000000001" stroke="#000" stroke-width="0.9"/><text x="70.30" y="838.00" text-anchor="middle" >0</text><line x1="128.06" y1="820.2" x2="128.06" y2="824.9000000000001" stroke="#000" stroke-width="0.9"/><text x="128.06" y="838.00" text-anchor="middle" >20</text><line x1="185.82" y1="820.2" x2="185.82" y2="824.9000000000001" stroke="#000" stroke-width="0.9"/><text x="185.82" y="838.00" text-anchor="middle" >40</text><line x1="243.58" y1="820.2" x2="243.58" y2="824.9000000000001" stroke="#000" stroke-width="0.9"/><text x="243.58" y="838.00" text-anchor="middle" >60</text><line x1="301.34" y1="820.2" x2="301.34" y2="824.9000000000001" stroke="#000" stroke-width="0.9"/><text x="301.34" y="838.00" text-anchor="middle" >80</text><line x1="359.10" y1="820.2" x2="359.10" y2="824.9000000000001" stroke="#000" stroke-width="0.9"/><text x="359.10" y="838.00" text-anchor="middle" >100</text><line x1="416.86" y1="820.2" x2="416.86" y2="824.9000000000001" stroke="#000" stroke-width="0.9"/><text x="416.86" y="838.00" text-anchor="middle" >120</text><line x1="474.62" y1="820.2" x2="474.62" y2="824.9000000000001" stroke="#000" stroke-width="0.9"/><text x="474.62" y="838.00" text-anchor="middle" >140</text><line x1="532.38" y1="820.2" x2="532.38" y2="824.9000000000001" stroke="#000" stroke-width="0.9"/><text x="532.38" y="838.00" text-anchor="middle" >160</text><line x1="43.0" y1="805.30" x2="47.7" y2="805.30" stroke="#000" stroke-width="0.9"/><text x="38.60" y="809.80" text-anchor="end" >0</text><line x1="43.0" y1="729.10" x2="47.7" y2="729.10" stroke="#000" stroke-width="0.9"/><text x="38.60" y="733.60" text-anchor="end" >10</text><line x1="43.0" y1="652.90" x2="47.7" y2="652.90" stroke="#000" stroke-width="0.9"/><text x="38.60" y="657.40" text-anchor="end" >20</text><line x1="43.0" y1="576.70" x2="47.7" y2="576.70" stroke="#000" stroke-width="0.9"/><text x="38.60" y="581.20" text-anchor="end" >30</text><line x1="43.0" y1="500.50" x2="47.7" y2="500.50" stroke="#000" stroke-width="0.9"/><text x="38.60" y="505.00" text-anchor="end" >40</text><text x="293.50" y="854.60" text-anchor="middle" font-size="12.15">Collected dates (days)</text><text transform="translate(14.9,640.4) rotate(-90)" text-anchor="middle">Anomaly Score</text></g><g font-family='"Liberation Serif", "DejaVu Serif", serif' font-size="19" fill="#000"><text x="310" text-anchor="middle" y="442.6">(<tspan font-weight="bold">a</tspan>)</text><text x="310" y="898.6" text-anchor="middle">(<tspan font-weight="bold">b</tspan>)</text></g></svg>
</body></html>
